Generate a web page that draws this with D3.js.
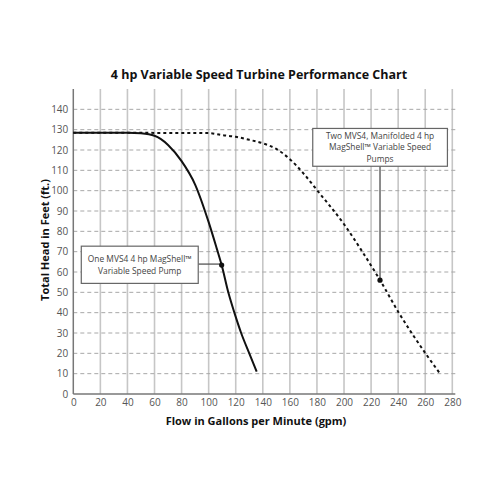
<!DOCTYPE html>
<html>
<head>
<meta charset="utf-8">
<script src="https://cdn.jsdelivr.net/npm/d3@7"></script>
<style>
  body { margin: 0; background: #fff; }
  text { font-family: "Open Sans", "DejaVu Sans", sans-serif; }
</style>
</head>
<body>
<div id="chart"></div>
<script>
// flow (gpm) vs head (ft)
var singlePump = [[0,128.5],[40,128.5],[50,128.2],[60,127],[70,122.5],[80,114.5],[90,103],[100,84.5],[106,71.5],[109.6,63.4],[114.5,50],[119,40],[124,30],[130,20],[135.5,11]];
var twoPumps = [[0,128.5],[100,128.3],[110,127.3],[120,126.5],[130,125],[140,123.3],[150,120.5],[160,115.5],[170,108.5],[180,100.3],[200,83.5],[214,69.5],[226.6,56],[240,40.5],[261,19.2],[270.4,10.5]];

var xTicks = d3.range(0, 281, 20);
var yTicks = d3.range(0, 141, 10);

var callouts = [
  {lines: ["One MVS4 4 hp MagShell\u2122", "Variable Speed Pump"], box: [5.9, 92.3, 72.7, 54.4], point: [109.6, 63.4], leader: "h"},
  {lines: ["Two MVS4, Manifolded 4 hp", "MagShell\u2122 Variable Speed", "Pumps"], box: [176.9, 276.4, 130.6, 112], point: [226.6, 56], leader: "v"}
];

var width = 500, height = 500;

var x = d3.scaleLinear().domain([0, 280]).range([73.3, 452.3]);
var y = d3.scaleLinear().domain([0, 150]).range([394, 89]);

var svg = d3.select('#chart')
  .append('svg')
    .attr('width', width)
    .attr('height', height);

// title
svg.append('text')
  .attr('x', 259).attr('y', 79)
  .attr('text-anchor', 'middle')
  .style('font-size', '12.5px')
  .style('font-weight', 'bold')
  .attr('fill', '#111')
  .text('4 hp Variable Speed Turbine Performance Chart');

// grid
svg.append('g').selectAll('line')
  .data(xTicks.slice(1)).enter()
  .append('line')
    .attr('x1', function(d) { return x(d); })
    .attr('x2', function(d) { return x(d); })
    .attr('y1', y(150)).attr('y2', y(0))
    .attr('stroke', '#c6c6c6')
    .attr('stroke-width', 1.6);

svg.append('g').selectAll('line')
  .data(yTicks.slice(1)).enter()
  .append('line')
    .attr('x1', x(0)).attr('x2', x(280) + 3)
    .attr('y1', function(d) { return y(d); })
    .attr('y2', function(d) { return y(d); })
    .attr('stroke', '#a8a8a8')
    .attr('stroke-width', 1)
    .attr('stroke-dasharray', '4,3');

// axes
var xAxis = svg.append('g')
  .attr('transform', 'translate(0,' + y(0) + ')')
  .call(d3.axisBottom(x).tickValues(xTicks).tickSize(0).tickPadding(5));
var yAxis = svg.append('g')
  .attr('transform', 'translate(' + x(0) + ',0)')
  .call(d3.axisLeft(y).tickValues(yTicks).tickSize(0).tickPadding(5));

[xAxis, yAxis].forEach(function(a) {
  a.select('.domain').attr('stroke', '#777').attr('stroke-width', 1.5);
  a.selectAll('text')
    .style('font-size', '10px')
    .style('font-family', '"Open Sans", sans-serif')
    .attr('fill', '#555');
});
xAxis.select('.domain').attr('d', 'M' + x(0) + ',0H' + (x(280) + 3));
yAxis.select('.domain').attr('d', 'M0,' + y(150) + 'V' + y(0));

// axis titles
svg.append('text')
  .attr('x', 256).attr('y', 425)
  .attr('text-anchor', 'middle')
  .style('font-size', '11px')
  .style('font-weight', 'bold')
  .attr('fill', '#111')
  .text('Flow in Gallons per Minute (gpm)');

svg.append('text')
  .attr('transform', 'translate(49,240) rotate(-90)')
  .attr('text-anchor', 'middle')
  .style('font-size', '11px')
  .style('font-weight', 'bold')
  .attr('fill', '#111')
  .text('Total Head in Feet (ft.)');

// curves
var line = d3.line()
  .x(function(d) { return x(d[0]); })
  .y(function(d) { return y(d[1]); })
  .curve(d3.curveMonotoneX);

svg.append('path')
  .datum(twoPumps)
  .attr('d', line)
  .attr('fill', 'none')
  .attr('stroke', '#111')
  .attr('stroke-width', 2)
  .attr('stroke-dasharray', '3,3');

svg.append('path')
  .datum(singlePump)
  .attr('d', line)
  .attr('fill', 'none')
  .attr('stroke', '#111')
  .attr('stroke-width', 2);

// callouts
callouts.forEach(function(c) {
  var g = svg.append('g');
  var bx0 = x(c.box[0]), bx1 = x(c.box[1]), by0 = y(c.box[2]), by1 = y(c.box[3]);
  var px = x(c.point[0]), py = y(c.point[1]);

  if (c.leader == 'h') {
    g.append('line')
      .attr('x1', bx1).attr('x2', px)
      .attr('y1', py - 1).attr('y2', py - 1)
      .attr('stroke', '#555').attr('stroke-width', 1.3);
  } else {
    g.append('line')
      .attr('x1', px).attr('x2', px)
      .attr('y1', by1).attr('y2', py)
      .attr('stroke', '#666').attr('stroke-width', 1.5);
  }

  g.append('rect')
    .attr('x', bx0).attr('y', by0)
    .attr('width', bx1 - bx0).attr('height', by1 - by0)
    .attr('fill', '#fff')
    .attr('stroke', '#666')
    .attr('stroke-width', 1.2);

  var lh = 11.6;
  var cy = (by0 + by1) / 2 - (c.lines.length - 1) * lh / 2;
  g.selectAll('text')
    .data(c.lines).enter()
    .append('text')
      .attr('x', (bx0 + bx1) / 2)
      .attr('y', function(d, i) { return cy + i * lh; })
      .attr('dy', '0.35em')
      .attr('text-anchor', 'middle')
      .style('font-size', '8.4px')
      .attr('fill', '#444')
      .text(function(d) { return d; });

  g.append('circle')
    .attr('cx', px).attr('cy', py)
    .attr('r', 2.6)
    .attr('fill', '#111');
});
</script>
</body>
</html>
